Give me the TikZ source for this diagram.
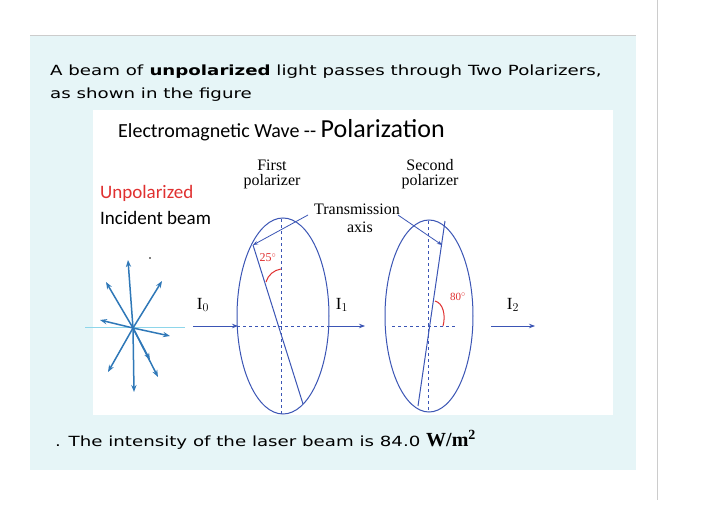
\documentclass[tikz,border=0pt]{standalone}
\usepackage{fontspec}
\setmainfont{Liberation Serif}
\newfontfamily\uifont[FakeStretch=1.3]{DejaVu Sans}
\newfontfamily\calfont{Carlito}
\usetikzlibrary{arrows.meta}
\definecolor{pan}{HTML}{E6F5F7}
\definecolor{bl}{HTML}{3B55B5}
\definecolor{st}{HTML}{2F78B8}
\definecolor{rd}{HTML}{E03030}
\begin{document}
\begin{tikzpicture}[x=1pt,y=-1pt,
  ln/.style={bl,line width=1pt},
  dsh/.style={bl,dashed,line width=0.7pt},
  ar/.style={bl,line width=0.8pt,-{Stealth[length=6pt]}},
  sa/.style={st,line width=1.5pt,-{Stealth[length=7pt]}},
  lab/.style={inner sep=0pt,font=\fontsize{16}{15}\selectfont,align=center}]
\useasboundingbox (0,0) rectangle (716,522);
\fill[white] (0,0) rectangle (716,522);
\fill[pan] (30,35) rectangle (636,470);
\draw[gray!40] (30,35) -- (636,35);
\draw[gray!40,line width=1pt] (657,0) -- (657,500);
\fill[white] (93,110) rectangle (613,415);
\node[anchor=west,inner sep=0pt,font=\uifont\fontsize{14}{14}\selectfont] (t1) at (50,72) {A beam of \textbf{unpolarized} light passes through Two Polarizers,};
\node[anchor=west,inner sep=0pt,font=\uifont\fontsize{14}{14}\selectfont] (t2) at (50,95) {as shown in the figure};
\node[anchor=west,inner sep=0pt,font=\calfont\fontsize{20}{20}\selectfont] (ttl) at (118,130) {Electromagnetic Wave -- {\fontsize{26}{26}\selectfont Polarization}};
\node[anchor=west,inner sep=0pt,font=\calfont\fontsize{19}{19}\selectfont,text=rd] (un) at (100,193) {Unpolarized};
\node[anchor=west,inner sep=0pt,font=\calfont\fontsize{19}{19}\selectfont] (inc) at (100,218) {Incident beam};
\node[lab] (fp) at (272,174) {First\\polarizer};
\node[lab] (sp) at (430,174) {Second\\polarizer};
\node[lab] (ta) at (357,209) {Transmission};
\node[lab] (ax) at (360,227) {axis};
% star
\coordinate (c) at (133,328);
\draw[st!60!cyan!50,line width=0.8pt] (85,327) -- (185,327);
\foreach \p in {(128,260),(106,282),(162,281),(100,320),(170,336),(108,372),(158,377),(134,392),(150,360)}
  \draw[sa] (c) -- \p;
\fill[black] (150,258) circle (0.8);
% ellipses
\draw[ln] (283,316) ellipse [x radius=46,y radius=98];
\draw[ln] (429,316) ellipse [x radius=44,y radius=96];
\coordinate (a1) at (253,245); \coordinate (b1) at (303,404);
\coordinate (a2) at (445,221); \coordinate (b2) at (418,406);
\draw[ln] (a1) -- (b1);
\draw[ln] (a2) -- (b2);
\draw[dsh] (281,219) -- (281,414);
\draw[dsh] (428,221) -- (428,411);
\draw[dsh] (237,326) -- (328,326);
\draw[dsh] (392,326) -- (457,326);
\draw[ar] (193,326) -- (238,326);
\draw[ar] (328,326) -- (365,326);
\draw[ar] (491,326) -- (535,326);
\draw[bl,line width=0.8pt,-{Stealth[length=5pt]}] (308,215) -- (a1);
\draw[bl,line width=0.8pt,-{Stealth[length=5pt]}] (398,215) -- (442,245);
\node[lab,font=\fontsize{17}{17}\selectfont] (i0) at (203,305) {I$_0$};
\node[lab,font=\fontsize{17}{17}\selectfont] (i1) at (342,305) {I$_1$};
\node[lab,font=\fontsize{17}{17}\selectfont] (i2) at (513,305) {I$_2$};
% angles
\draw[rd,line width=1pt] (266,282) .. controls (268,275) and (274,270) .. (281,269);
\node[lab,text=rd,font=\fontsize{12}{12}\selectfont] (a25) at (268,258) {25$^{\circ}$};
\draw[rd,line width=1pt] (435,301) .. controls (443,303) and (446,315) .. (443,326);
\node[lab,text=rd,font=\fontsize{11}{11}\selectfont] (a80) at (458,297) {80$^{\circ}$};
\node[anchor=west,inner sep=0pt,font=\uifont\fontsize{14}{14}\selectfont] (bt) at (55,440) {. The intensity of the laser beam is 84.0 {\rmfamily\bfseries\fontsize{20}{20}\selectfont W/m$^{\mathbf 2}$}};
\end{tikzpicture}
\end{document}
